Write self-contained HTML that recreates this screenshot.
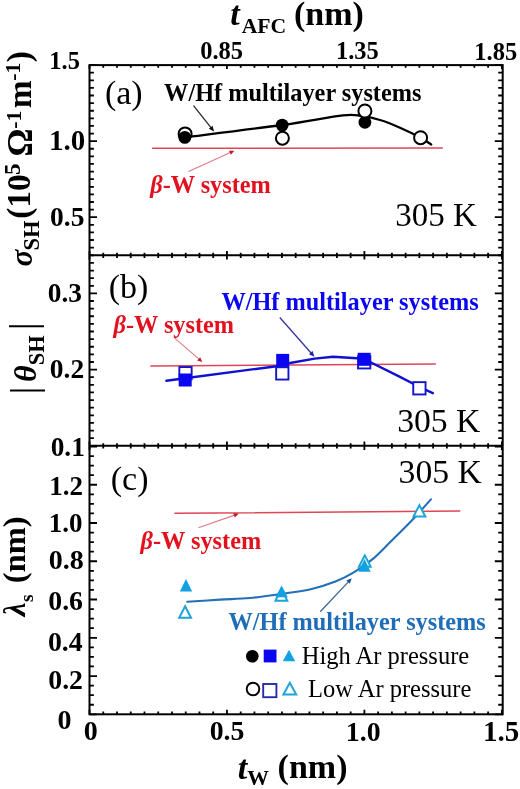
<!DOCTYPE html>
<html><head><meta charset="utf-8"><title>Figure</title>
<style>html,body{margin:0;padding:0;background:#fff;}svg{display:block;}</style>
</head><body>
<svg width="520" height="789" viewBox="0 0 520 789" font-family="'Liberation Serif', 'Times New Roman', serif">
<rect width="520" height="789" fill="#fff"/>
<path d="M89.5 255.22H93.9M502.7 255.22H498.2M89.5 247.62H93.9M502.7 247.62H498.2M89.5 240.01H93.9M502.7 240.01H498.2M89.5 232.41H93.9M502.7 232.41H498.2M89.5 224.81H93.9M502.7 224.81H498.2M89.5 217.2H97M502.7 217.2H494.8M89.5 209.59H93.9M502.7 209.59H498.2M89.5 201.99H93.9M502.7 201.99H498.2M89.5 194.38H93.9M502.7 194.38H498.2M89.5 186.78H93.9M502.7 186.78H498.2M89.5 179.17H93.9M502.7 179.17H498.2M89.5 171.57H93.9M502.7 171.57H498.2M89.5 163.96H93.9M502.7 163.96H498.2M89.5 156.36H93.9M502.7 156.36H498.2M89.5 148.75H93.9M502.7 148.75H498.2M89.5 141.15H97M502.7 141.15H494.8M89.5 133.54H93.9M502.7 133.54H498.2M89.5 125.94H93.9M502.7 125.94H498.2M89.5 118.34H93.9M502.7 118.34H498.2M89.5 110.73H93.9M502.7 110.73H498.2M89.5 103.12H93.9M502.7 103.12H498.2M89.5 95.52H93.9M502.7 95.52H498.2M89.5 87.91H93.9M502.7 87.91H498.2M89.5 80.31H93.9M502.7 80.31H498.2M89.5 72.7H93.9M502.7 72.7H498.2M89.5 65.1H97M502.7 65.1H494.8M89.5 445.8H97M502.7 445.8H494.8M89.5 438.18H93.9M502.7 438.18H498.2M89.5 430.56H93.9M502.7 430.56H498.2M89.5 422.94H93.9M502.7 422.94H498.2M89.5 415.32H93.9M502.7 415.32H498.2M89.5 407.7H93.9M502.7 407.7H498.2M89.5 400.08H93.9M502.7 400.08H498.2M89.5 392.46H93.9M502.7 392.46H498.2M89.5 384.84H93.9M502.7 384.84H498.2M89.5 377.22H93.9M502.7 377.22H498.2M89.5 369.6H97M502.7 369.6H494.8M89.5 361.98H93.9M502.7 361.98H498.2M89.5 354.36H93.9M502.7 354.36H498.2M89.5 346.74H93.9M502.7 346.74H498.2M89.5 339.12H93.9M502.7 339.12H498.2M89.5 331.5H93.9M502.7 331.5H498.2M89.5 323.88H93.9M502.7 323.88H498.2M89.5 316.26H93.9M502.7 316.26H498.2M89.5 308.64H93.9M502.7 308.64H498.2M89.5 301.02H93.9M502.7 301.02H498.2M89.5 293.4H97M502.7 293.4H494.8M89.5 285.78H93.9M502.7 285.78H498.2M89.5 278.16H93.9M502.7 278.16H498.2M89.5 270.54H93.9M502.7 270.54H498.2M89.5 262.92H93.9M502.7 262.92H498.2M89.5 255.3H93.9M502.7 255.3H498.2M89.5 714.3H97M502.7 714.3H494.8M89.5 704.73H93.9M502.7 704.73H498.2M89.5 695.17H93.9M502.7 695.17H498.2M89.5 685.6H93.9M502.7 685.6H498.2M89.5 676.04H97M502.7 676.04H494.8M89.5 666.47H93.9M502.7 666.47H498.2M89.5 656.91H93.9M502.7 656.91H498.2M89.5 647.34H93.9M502.7 647.34H498.2M89.5 637.78H97M502.7 637.78H494.8M89.5 628.21H93.9M502.7 628.21H498.2M89.5 618.65H93.9M502.7 618.65H498.2M89.5 609.08H93.9M502.7 609.08H498.2M89.5 599.52H97M502.7 599.52H494.8M89.5 589.95H93.9M502.7 589.95H498.2M89.5 580.39H93.9M502.7 580.39H498.2M89.5 570.82H93.9M502.7 570.82H498.2M89.5 561.26H97M502.7 561.26H494.8M89.5 551.69H93.9M502.7 551.69H498.2M89.5 542.13H93.9M502.7 542.13H498.2M89.5 532.56H93.9M502.7 532.56H498.2M89.5 523H97M502.7 523H494.8M89.5 513.43H93.9M502.7 513.43H498.2M89.5 503.87H93.9M502.7 503.87H498.2M89.5 494.3H93.9M502.7 494.3H498.2M89.5 484.74H97M502.7 484.74H494.8M89.5 475.17H93.9M502.7 475.17H498.2M89.5 465.61H93.9M502.7 465.61H498.2M89.5 456.04H93.9M502.7 456.04H498.2M89.5 446.48H97M502.7 446.48H494.8M89.5 65.1V69.1M89.5 251V259.6M89.5 441.5V450.1M89.5 714.3V709.8M103.25 65.1V67.7M103.25 252.7V257.9M103.25 443.2V448.4M103.25 714.3V711.5M116.99 65.1V67.7M116.99 252.7V257.9M116.99 443.2V448.4M116.99 714.3V711.5M130.74 65.1V67.7M130.74 252.7V257.9M130.74 443.2V448.4M130.74 714.3V711.5M144.48 65.1V67.7M144.48 252.7V257.9M144.48 443.2V448.4M144.48 714.3V711.5M158.22 65.1V67.7M158.22 252.7V257.9M158.22 443.2V448.4M158.22 714.3V711.5M171.97 65.1V67.7M171.97 252.7V257.9M171.97 443.2V448.4M171.97 714.3V711.5M185.72 65.1V67.7M185.72 252.7V257.9M185.72 443.2V448.4M185.72 714.3V711.5M199.46 65.1V67.7M199.46 252.7V257.9M199.46 443.2V448.4M199.46 714.3V711.5M213.2 65.1V67.7M213.2 252.7V257.9M213.2 443.2V448.4M213.2 714.3V711.5M226.95 65.1V69.1M226.95 251V259.6M226.95 441.5V450.1M226.95 714.3V709.8M240.69 65.1V67.7M240.69 252.7V257.9M240.69 443.2V448.4M240.69 714.3V711.5M254.44 65.1V67.7M254.44 252.7V257.9M254.44 443.2V448.4M254.44 714.3V711.5M268.19 65.1V67.7M268.19 252.7V257.9M268.19 443.2V448.4M268.19 714.3V711.5M281.93 65.1V67.7M281.93 252.7V257.9M281.93 443.2V448.4M281.93 714.3V711.5M295.67 65.1V67.7M295.67 252.7V257.9M295.67 443.2V448.4M295.67 714.3V711.5M309.42 65.1V67.7M309.42 252.7V257.9M309.42 443.2V448.4M309.42 714.3V711.5M323.16 65.1V67.7M323.16 252.7V257.9M323.16 443.2V448.4M323.16 714.3V711.5M336.91 65.1V67.7M336.91 252.7V257.9M336.91 443.2V448.4M336.91 714.3V711.5M350.65 65.1V67.7M350.65 252.7V257.9M350.65 443.2V448.4M350.65 714.3V711.5M364.4 65.1V69.1M364.4 251V259.6M364.4 441.5V450.1M364.4 714.3V709.8M378.14 65.1V67.7M378.14 252.7V257.9M378.14 443.2V448.4M378.14 714.3V711.5M391.89 65.1V67.7M391.89 252.7V257.9M391.89 443.2V448.4M391.89 714.3V711.5M405.63 65.1V67.7M405.63 252.7V257.9M405.63 443.2V448.4M405.63 714.3V711.5M419.38 65.1V67.7M419.38 252.7V257.9M419.38 443.2V448.4M419.38 714.3V711.5M433.12 65.1V67.7M433.12 252.7V257.9M433.12 443.2V448.4M433.12 714.3V711.5M446.87 65.1V67.7M446.87 252.7V257.9M446.87 443.2V448.4M446.87 714.3V711.5M460.62 65.1V67.7M460.62 252.7V257.9M460.62 443.2V448.4M460.62 714.3V711.5M474.36 65.1V67.7M474.36 252.7V257.9M474.36 443.2V448.4M474.36 714.3V711.5M488.11 65.1V67.7M488.11 252.7V257.9M488.11 443.2V448.4M488.11 714.3V711.5M501.85 65.1V69.1M501.85 251V259.6M501.85 441.5V450.1M501.85 714.3V709.8" stroke="#000" stroke-width="1.8" fill="none"/>
<rect x="89.5" y="65.1" width="413.2" height="649.2" fill="none" stroke="#000" stroke-width="2"/>
<path d="M89.5 255.3H502.7M89.5 445.8H502.7" stroke="#000" stroke-width="2"/>
<text x="64.65" y="69.2" font-size="24.5" font-weight="bold" text-anchor="middle">1.5</text>
<text x="67.1" y="150.25" font-size="29" font-weight="bold" text-anchor="middle">1.0</text>
<text x="67.2" y="226.4" font-size="27.5" font-weight="bold" text-anchor="middle">0.5</text>
<text x="64.9" y="302.4" font-size="27.3" font-weight="bold" text-anchor="middle">0.3</text>
<text x="67" y="378.45" font-size="27.5" font-weight="bold" text-anchor="middle">0.2</text>
<text x="67.75" y="455.75" font-size="27.3" font-weight="bold" text-anchor="middle">0.1</text>
<text x="66.2" y="495.45" font-size="27" font-weight="bold" text-anchor="middle">1.2</text>
<text x="65.65" y="531.8" font-size="27" font-weight="bold" text-anchor="middle">1.0</text>
<text x="66.15" y="569.45" font-size="28" font-weight="bold" text-anchor="middle">0.8</text>
<text x="65.65" y="609.8" font-size="27.8" font-weight="bold" text-anchor="middle">0.6</text>
<text x="65.25" y="651.05" font-size="27.8" font-weight="bold" text-anchor="middle">0.4</text>
<text x="65.65" y="689.4" font-size="27.8" font-weight="bold" text-anchor="middle">0.2</text>
<text x="64.45" y="729.3" font-size="28" font-weight="bold" text-anchor="middle">0</text>
<text x="90.85" y="739.95" font-size="28" font-weight="bold" text-anchor="middle">0</text>
<text x="227.1" y="740.05" font-size="27.8" font-weight="bold" text-anchor="middle">0.5</text>
<text x="363.2" y="740.5" font-size="27.8" font-weight="bold" text-anchor="middle">1.0</text>
<text x="501.05" y="741" font-size="29" font-weight="bold" text-anchor="middle">1.5</text>
<text x="221.65" y="59.25" font-size="24.5" font-weight="bold" text-anchor="middle">0.85</text>
<text x="357.4" y="59.35" font-size="24.5" font-weight="bold" text-anchor="middle">1.35</text>
<text x="495.75" y="60" font-size="24.5" font-weight="bold" text-anchor="middle">1.85</text>
<text x="230.35" y="25.1" font-size="34" font-weight="bold" font-style="italic">t</text>
<text x="241.65" y="32.7" font-size="21.7" font-weight="bold">AFC</text>
<text x="294.05" y="25.3" font-size="34" font-weight="bold">(nm)</text>
<text x="237.75" y="778.75" font-size="34" font-weight="bold" font-style="italic">t</text>
<text x="247.3" y="785.05" font-size="21.7" font-weight="bold">W</text>
<text x="277.6" y="777.5" font-size="34" font-weight="bold">(nm)</text>
<text x="104.9" y="104.45" font-size="34">(a)</text>
<text x="108.65" y="298" font-size="34">(b)</text>
<text x="110.75" y="489.9" font-size="34">(c)</text>
<text x="395.3" y="226.2" font-size="33">305 K</text>
<text x="397.15" y="431.7" font-size="33.7">305 K</text>
<text x="398.55" y="482.8" font-size="33.7">305 K</text>
<text x="164.1" y="101.25" font-size="24.3" font-weight="bold">W/Hf multilayer systems</text>
<text x="221.4" y="310" font-size="24.3" font-weight="bold" fill="#0a06f0">W/Hf multilayer systems</text>
<text x="228.45" y="630" font-size="24.3" font-weight="bold" fill="#1f6db8">W/Hf multilayer systems</text>
<text x="150.2" y="193.35" font-size="24.3" font-weight="bold" fill="#e3101e"><tspan font-style="italic">β</tspan>-W system</text>
<text x="113.45" y="333" font-size="24.3" font-weight="bold" fill="#e3101e"><tspan font-style="italic">β</tspan>-W system</text>
<text x="140.5" y="549.2" font-size="24.3" font-weight="bold" fill="#e3101e"><tspan font-style="italic">β</tspan>-W system</text>
<text x="301.8" y="664.3" font-size="24.5">High Ar pressure</text>
<text x="308" y="696.8" font-size="24.5">Low Ar pressure</text>
<g transform="rotate(-90)"><text x="-266.45" y="32.2" font-size="31" font-weight="bold" font-style="italic">σ</text><text x="-250.4" y="38.75" font-size="22.5" font-weight="bold">SH</text><text x="-218.85" y="30.05" font-size="33.5" font-weight="bold">(10</text><text x="-175.1" y="19.6" font-size="23" font-weight="bold">5</text><text x="-156.55" y="32.2" font-size="35" font-weight="bold">Ω</text><text x="-128.8" y="20.75" font-size="22" font-weight="bold">-1</text><text x="-108.35" y="30.55" font-size="33.5" font-weight="bold">m</text><text x="-80.85" y="20" font-size="22" font-weight="bold">-1</text><text x="-62.35" y="30.2" font-size="33.5" font-weight="bold">)</text><text x="-394.25" y="37.45" font-size="38">|</text><text x="-381.95" y="35.75" font-size="32" font-weight="bold" font-style="italic">θ</text><text x="-365.3" y="44.1" font-size="22.5" font-weight="bold">SH</text><text x="-330.05" y="35.55" font-size="38">|</text><text x="-616.2" y="24.65" font-size="31" font-weight="bold" font-style="italic">λ</text><text x="-602.05" y="32.65" font-size="19.5" font-weight="bold">s</text><text x="-583.2" y="24.8" font-size="32.5" font-weight="bold">(nm)</text></g>
<path d="M152.1 148.3L442.8 147.9M150.3 365.9L435.8 364.1M174.4 513.3L460.3 511" stroke="#df4656" stroke-width="1.5" fill="none"/>
<path d="M188.5 171.5L230.38 152.57" stroke="#e07a88" stroke-width="1.1" fill="none"/>
<path d="M234.3 150.8L230.87 154.87L228.98 150.68Z" fill="#c41828"/>
<path d="M174.6 338.2L199.04 359.2" stroke="#e07a88" stroke-width="1.1" fill="none"/>
<path d="M202.3 362L197.16 360.62L200.16 357.13Z" fill="#c41828"/>
<path d="M198.5 527.7L234.54 515.12" stroke="#e07a88" stroke-width="1.1" fill="none"/>
<path d="M238.6 513.7L234.83 517.45L233.31 513.11Z" fill="#c41828"/>
<path d="M193.5 105.6L210.99 127.59" stroke="#2a2a2a" stroke-width="1.3" fill="none"/>
<path d="M214.1 131.5L208.8 128.69L212.55 125.7Z" fill="#111"/>
<path d="M279.8 317.5L311.09 352.95" stroke="#3434a4" stroke-width="1.3" fill="none"/>
<path d="M314.4 356.7L308.96 354.16L312.56 350.99Z" fill="#2020a0"/>
<path d="M320.2 611.8L348.37 581.84" stroke="#3a6898" stroke-width="1.3" fill="none"/>
<path d="M351.8 578.2L349.78 583.85L346.28 580.56Z" fill="#1d5590"/>
<path d="M185 137.4C201.17 135.33 255.67 128.68 282 125C308.33 121.32 329.67 116.77 343 115.3C356.33 113.83 355.83 115.42 362 116.2C368.17 116.98 373.67 118.08 380 120C386.33 121.92 393.23 124.75 400 127.7C406.77 130.65 415.4 134.9 420.6 137.7C425.8 140.5 429.43 143.37 431.2 144.5" stroke="#000" stroke-width="2.3" fill="none" stroke-linecap="round"/>
<polyline points="166.4,380.8 185,378.3 276.5,366.2 288.7,363.2 314.6,358.6 333,356.7 357,358.2 371,362.5 400,376.9 419.5,387 432.8,393.2" stroke="#1010d0" stroke-width="2.4" fill="none" stroke-linecap="round" stroke-linejoin="round"/>
<path d="M187.3 601.8C192.75 601.43 209.55 600.23 220 599.6C230.45 598.97 238.97 599.07 250 598C261.03 596.93 276.07 594.67 286.2 593.2C296.33 591.73 302.6 591.15 310.8 589.2C319 587.25 328.23 584.32 335.4 581.5C342.57 578.68 347.65 575.98 353.8 572.3C359.95 568.62 366.13 564.53 372.3 559.4C378.47 554.27 384.13 548.07 390.8 541.5C397.47 534.93 405.62 527.02 412.3 520C418.98 512.98 427.8 502.83 430.9 499.4" stroke="#2270b8" stroke-width="2.1" fill="none" stroke-linecap="round"/>
<circle cx="185.1" cy="133.9" r="6.5" fill="#fff" stroke="#000" stroke-width="2"/>
<circle cx="184.8" cy="137.4" r="6.4" fill="#000"/>
<circle cx="282.2" cy="125.1" r="6.4" fill="#000"/>
<circle cx="282.4" cy="138.2" r="6.5" fill="#fff" stroke="#000" stroke-width="2"/>
<circle cx="364.9" cy="122.3" r="6.4" fill="#000"/>
<circle cx="364.9" cy="111" r="6.5" fill="#fff" stroke="#000" stroke-width="2"/>
<circle cx="420.6" cy="137.7" r="6.5" fill="#fff" stroke="#000" stroke-width="2"/>
<rect x="179.35" y="367.05" width="12.3" height="12.3" fill="#fff" stroke="#1414c8" stroke-width="1.9"/>
<rect x="178.7" y="373.5" width="13" height="13" fill="#0a06f0"/>
<rect x="276.15" y="367.25" width="12.3" height="12.3" fill="#fff" stroke="#1414c8" stroke-width="1.9"/>
<rect x="276.2" y="353.9" width="13" height="13" fill="#0a06f0"/>
<rect x="358.05" y="356.15" width="12.3" height="12.3" fill="#fff" stroke="#1414c8" stroke-width="1.9"/>
<rect x="357.7" y="352.8" width="13" height="13" fill="#0a06f0"/>
<rect x="413.25" y="382.15" width="12.3" height="12.3" fill="#fff" stroke="#1414c8" stroke-width="1.9"/>
<polygon points="185.1,606.2 191,617.8 179.2,617.8" fill="#fff" stroke="#1ea4d8" stroke-width="2"/>
<polygon points="186,578.9 192.2,591.6 179.8,591.6" fill="#12a2e2"/>
<polygon points="281.4,588.6 287.3,600.7 275.5,600.7" fill="#fff" stroke="#1ea4d8" stroke-width="2"/>
<polygon points="281.6,585.4 287.8,597.3 275.4,597.3" fill="#12a2e2"/>
<polygon points="364.8,555.4 370.7,566.7 358.9,566.7" fill="#fff" stroke="#1ea4d8" stroke-width="2"/>
<polygon points="364.5,559 370.7,571.7 358.3,571.7" fill="#12a2e2"/>
<polygon points="419.4,505.1 425.3,516.6 413.5,516.6" fill="#fff" stroke="#1ea4d8" stroke-width="2"/>
<circle cx="252.3" cy="656.3" r="6.3" fill="#000"/>
<rect x="263.7" y="649.6" width="12.8" height="12.8" fill="#0a06f0"/>
<polygon points="289,649.7 295.2,661.2 282.8,661.2" fill="#12a2e2"/>
<circle cx="253" cy="689" r="6.3" fill="#fff" stroke="#000" stroke-width="1.9"/>
<rect x="263.2" y="684" width="13.2" height="13.2" fill="#fff" stroke="#2a2aa8" stroke-width="1.9"/>
<polygon points="289.8,682.8 296.2,694.6 283.4,694.6" fill="#fff" stroke="#1ea4d8" stroke-width="2"/>
</svg>
</body></html>
